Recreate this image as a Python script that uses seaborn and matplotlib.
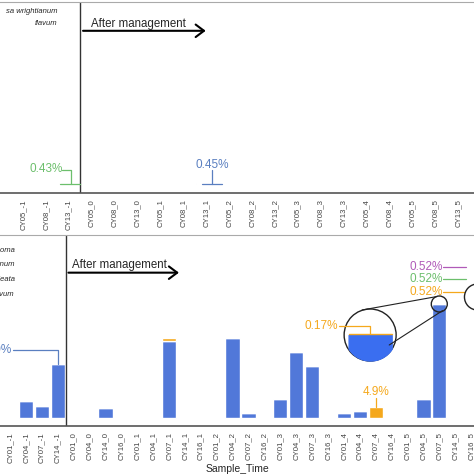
import numpy as np
import pandas as pd
import matplotlib
matplotlib.use("Agg")
import matplotlib.pyplot as plt
import seaborn as sns
from matplotlib.patches import Ellipse

sns.set_style("white")
plt.rcParams["font.family"] = ["Liberation Sans", "DejaVu Sans"]

# top panel data
top_samples = ["CY05_-1", "CY08_-1", "CY13_-1",
               "CY05_0", "CY08_0", "CY13_0", "CY05_1", "CY08_1", "CY13_1",
               "CY05_2", "CY08_2", "CY13_2", "CY05_3", "CY08_3", "CY13_3",
               "CY05_4", "CY08_4", "CY05_5", "CY08_5", "CY13_5"]
top_blue = [0, 0, 0, 0, 0, 0, 0, 0, 0.45, 0, 0, 0, 0, 0, 0, 0, 0, 0, 0, 0]
top_green = [0, 0, 0.43, 0, 0, 0, 0, 0, 0, 0, 0, 0, 0, 0, 0, 0, 0, 0, 0, 0]

# bottom panel data
bot_samples = ["CY01_-1", "CY04_-1", "CY07_-1", "CY14_-1",
               "CY01_0", "CY04_0", "CY14_0", "CY16_0",
               "CY01_1", "CY04_1", "CY07_1", "CY14_1", "CY16_1",
               "CY01_2", "CY04_2", "CY07_2", "CY16_2",
               "CY01_3", "CY04_3", "CY07_3", "CY16_3",
               "CY01_4", "CY04_4", "CY07_4", "CY16_4",
               "CY01_5", "CY04_5", "CY07_5", "CY14_5", "CY16_5"]
bot_blue = [0, 50, 36, 161, 0, 0, 28, 0, 0, 0, 231, 0, 0, 0, 240, 13, 0,
            55, 196, 155, 0, 13, 20, 0, 0, 0, 57, 341, 0, 0]
bot_orange = [0, 0, 0, 0, 0, 0, 0, 0, 0, 0, 7, 0, 0, 0, 0, 5, 0,
              0, 0, 0, 0, 0, 0, 32, 0, 0, 0, 0, 0, 0]

BLUE = "#3a6ef0"
ORANGE = "#f5a81c"
GREEN = "#6cbf6c"
PURPLE = "#b05ab8"
LBLUE = "#5a7fc0"

W = H = 474
fig = plt.figure(figsize=(4.74, 4.74), dpi=100)


def px_axes(x0, y0, x1, y1):
    # pixel box (top-left origin) -> figure axes
    return fig.add_axes([x0 / W, 1 - y1 / H, (x1 - x0) / W, (y1 - y0) / H])


def style(ax, labels):
    ax.set_xticks(range(len(labels)))
    ax.set_xticklabels(labels, rotation=90, fontsize=5.6, color="#444444")
    ax.tick_params(axis="x", length=3, width=0.8, color="#555555", pad=1.5)
    ax.set_yticks([])
    ax.set_xlabel("")
    ax.set_ylabel("")
    for s in ["top", "right", "left"]:
        ax.spines[s].set_color("#aaaaaa")
    ax.spines["bottom"].set_color("#555555")
    ax.spines["bottom"].set_linewidth(1.2)


# ---- top panel ----
axt = px_axes(-20, 2, 494, 193)
dft = pd.DataFrame({"Sample_Time": top_samples, "blue": top_blue, "green": top_green})
sns.barplot(data=dft, x="Sample_Time", y="blue", color=BLUE, width=0.88, ax=axt)
axt.bar(range(len(top_samples)), top_green, bottom=top_blue, color=GREEN, width=0.88)
sp, x0 = 22.9, 23
axt.set_xlim((-20 - x0) / sp, (494 - x0) / sp)
axt.set_ylim(-3, 60)
style(axt, top_samples)
axt.axvline(2.5, color="#333333", lw=1)
axt.annotate("", xy=(8.1, 50.5), xytext=(2.5, 50.5),
             arrowprops=dict(arrowstyle="->,head_length=0.6,head_width=0.45", lw=1.5, color="black"))
axt.text(2.95, 51.8, "After management", fontsize=8.3)
axt.plot([1.6, 2.5], [0, 0], color=GREEN, lw=0.9)
axt.plot([2.1, 2.1, 1.7], [0, 4.7, 4.7], color=GREEN, lw=0.9)
axt.text(0.3, 4.0, "0.43%", color=GREEN, fontsize=8.5)
axt.plot([7.8, 8.7], [0, 0], color=LBLUE, lw=0.9)
axt.plot([8.25, 8.25], [0, 4.5], color=LBLUE, lw=0.9)
axt.text(8.25, 5.3, "0.45%", color=LBLUE, fontsize=8.5, ha="center")
axt.text(1.5, 57, "sa wrightianum", fontsize=5.5, style="italic", ha="right", va="center")
axt.text(1.5, 53, "flavum", fontsize=5.5, style="italic", ha="right", va="center")

# ---- bottom panel ----
axb = px_axes(-20, 235, 494, 426)
dfb = pd.DataFrame({"Sample_Time": bot_samples, "blue": bot_blue, "orange": bot_orange})
sns.barplot(data=dfb, x="Sample_Time", y="blue", color=BLUE, width=0.9, ax=axb)
axb.bar(range(len(bot_samples)), bot_orange, bottom=bot_blue, color=ORANGE, width=0.9)
sp, x0 = 15.9, 10
axb.set_xlim((-20 - x0) / sp, (494 - x0) / sp)
axb.set_ylim(-25, 548)
style(axb, bot_samples)
axb.set_xlabel("Sample_Time", fontsize=7.5, labelpad=1)
axb.axvline(3.5, color="#333333", lw=1)
axb.annotate("", xy=(10.8, 435), xytext=(3.5, 435),
             arrowprops=dict(arrowstyle="->,head_length=0.6,head_width=0.45", lw=1.5, color="black"))
axb.text(3.9, 450, "After management", fontsize=8.3)
for i, name in enumerate(["sa stenostoma", "sa wrightianum", "s aculeata", "flavum"]):
    axb.text(0.3, 502 - i * 44, name, fontsize=5.5, style="italic", ha="right", va="center")

axb.plot([0.2, 3.0, 3.0], [203, 203, 161], color=LBLUE, lw=0.9)
axb.text(0.15, 203, "4.89%", color=LBLUE, fontsize=8.5, ha="right", va="center")
axb.plot([23, 23], [32, 60], color=ORANGE, lw=0.9)
axb.text(23, 78, "4.9%", color=ORANGE, fontsize=8.5, ha="center", va="center")

# zoom circles
xr = axb.get_xlim()
ux = 514 / (xr[1] - xr[0])
uy = 191 / 573


def circle(cx, cy, r_px, **kw):
    return Ellipse((cx, cy), 2 * r_px / ux, 2 * r_px / uy, **kw)


c1x, c1y = 22.65, 248
axb.add_patch(circle(c1x, c1y, 26, facecolor="white", edgecolor="#222222", lw=1, zorder=4))
xs = np.linspace(-21.5, 21.5, 60)
axb.fill_between(c1x + xs / ux,
                 c1y - np.sqrt(np.clip(1 - (xs / 25.5) ** 2, 0, 1)) * 25.5 / uy,
                 c1y, color=BLUE, zorder=5)
axb.plot([c1x - 21.5 / ux, c1x + 21.5 / ux], [c1y + 2, c1y + 2], color=ORANGE, lw=1, zorder=5)
axb.plot([c1x, c1x, 20.7], [c1y + 2, 275, 275], color=ORANGE, lw=0.9, zorder=5)
axb.text(20.6, 275, "0.17%", color=ORANGE, fontsize=8.5, ha="right", va="center")

c2x, c2y = 27, 341
axb.add_patch(circle(c2x, c2y, 8, facecolor="none", edgecolor="#222222", lw=1, zorder=6))
axb.plot([c1x - 0.5, c2x - 0.2], [c1y + 75, c2y + 22], color="#222222", lw=0.8, zorder=6)
axb.plot([c1x + 1.2, c2x + 0.2], [c1y - 30, c2y - 20], color="#222222", lw=0.8, zorder=6)

c3x, c3y = 29.4, 362
axb.add_patch(circle(c3x, c3y, 13, facecolor="white", edgecolor="#222222", lw=1, zorder=6))
axb.bar(c3x + 0.3, 28, bottom=c3y - 25, width=0.9, color=BLUE, zorder=7)
for k, col in enumerate([ORANGE, GREEN, PURPLE]):
    axb.bar(c3x + 0.3, 4, bottom=c3y + 3 + 4 * k, width=0.9, color=col, zorder=7)

for k, (col, yv) in enumerate([(PURPLE, 452), (GREEN, 415), (ORANGE, 378)]):
    axb.text(27.2, yv, "0.52%", color=col, fontsize=8.5, ha="right", va="center")
    axb.plot([27.25, 28.7], [yv, yv], color=col, lw=0.9)

fig.savefig("out.png", dpi=100)
